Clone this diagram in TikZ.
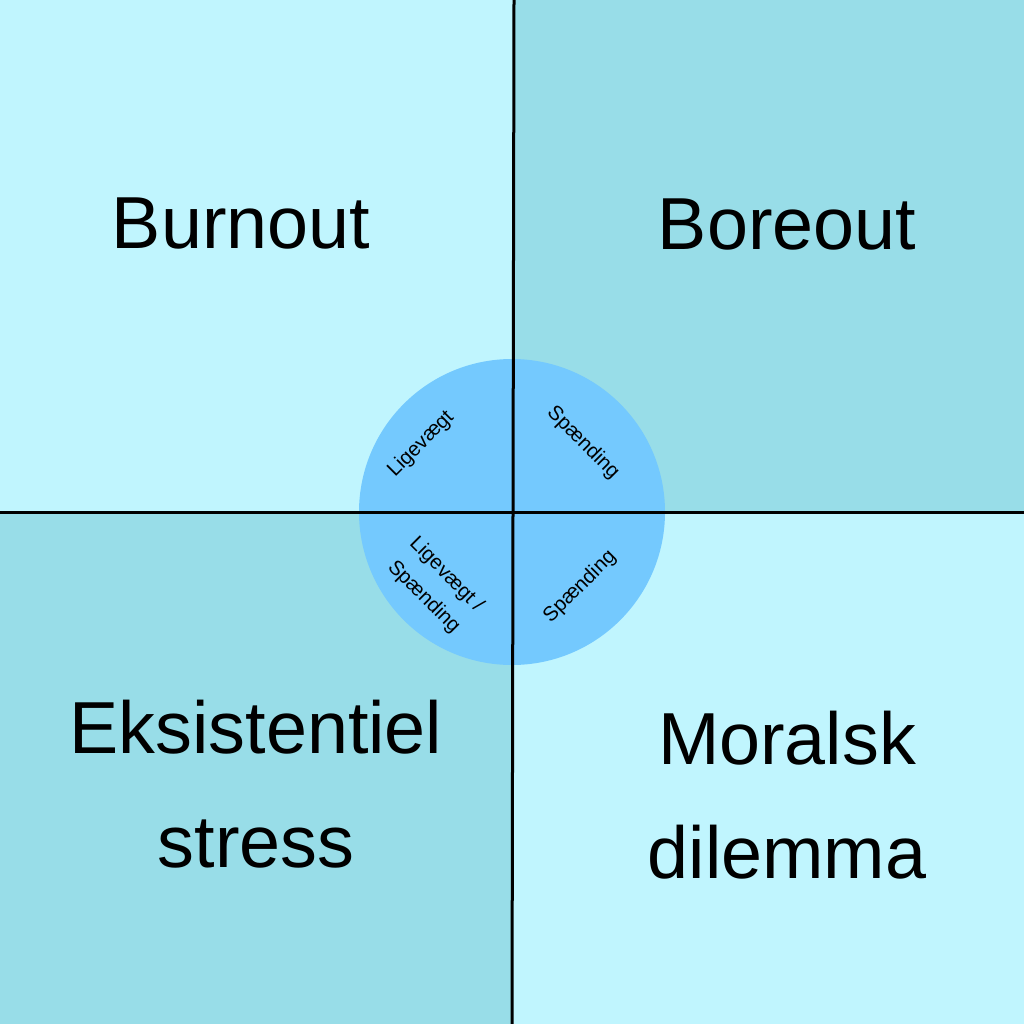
\documentclass[tikz,border=0pt]{standalone}
\usepackage{fontspec}
\setmainfont{Liberation Sans}
\usetikzlibrary{positioning}
\definecolor{paleq}{HTML}{C0F5FE}
\definecolor{deepq}{HTML}{98DDE8}
\definecolor{hubblue}{HTML}{74C9FE}
\tikzset{
  bigtext/.style={anchor=base, align=center, font=\fontsize{73.7}{114}\selectfont},
  smalltext/.style={align=center, inner sep=0pt, font=\fontsize{20.4}{32}\selectfont},
  axis/.style={line width=3pt}
}

\begin{document}
\begin{tikzpicture}[x=1pt,y=-1pt]
\def \size {1024}
\def \midx {513}
\def \midy {512}
\useasboundingbox (0,0) rectangle (\size,\size);
% quadrants
\fill[paleq] (0,0) rectangle (\midx,\midy);
\fill[deepq] (\midx,0) rectangle (\size,\midy);
\fill[deepq] (0,\midy) rectangle (\midx,\size);
\fill[paleq] (\midx,\midy) rectangle (\size,\size);
% centre disc
\node[circle, fill=hubblue, minimum size=306pt, inner sep=0pt] (hub) at (512,512) {};
\coordinate (top) at (514,0);
\coordinate (bottom) at (512,\size);
\coordinate (left) at (0,\midy);
\coordinate (right) at (\size,\midy);
\draw[axis] (top) -- (bottom);
\draw[axis] (left) -- (right);
% quadrant titles (base = last line)
\node[bigtext] (burnout) at (241,248) {Burnout};
\node[bigtext] (boreout) at (787,249) {Boreout};
\node[bigtext] (eksist) at (256,867) {Eksistentiel\\stress};
\node[bigtext] (moral) at (787,878) {Moralsk\\dilemma};
% labels in the disc
\node[smalltext, rotate=45] (lig) at (421,444) {Ligevægt};
\node[smalltext, rotate=-45] (spaend1) at (583,443) {Spænding};
\node[smalltext, rotate=-45] (ligspaend) at (435,586) {Ligevægt /\\Spænding};
\node[smalltext, rotate=45] (spaend2) at (580,587) {Spænding};
\end{tikzpicture}
\end{document}
